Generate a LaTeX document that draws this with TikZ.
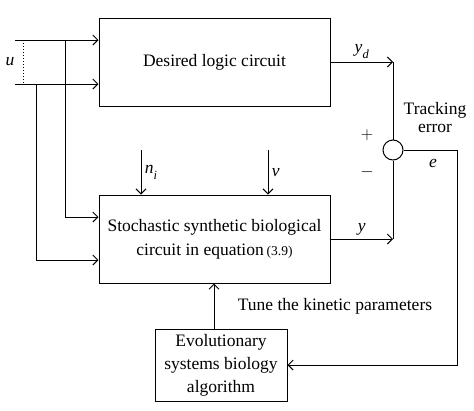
\documentclass[tikz,border=0pt]{standalone}
\usepackage{fontspec}
\setmainfont{Liberation Serif}
\usetikzlibrary{calc, positioning, arrows, arrows.meta}
\newcommand{\subit}[1]{\raisebox{-0.3em}{\fontsize{12.5}{13}\selectfont\textit{#1}}}
\begin{document}
\begin{tikzpicture}[x=1pt, y=-1pt, >={Straight Barb[length=5pt,width=10pt]}, line width=1pt,
  every node/.style={font=\fontsize{17.5}{23}\selectfont},
  blk/.style={draw, rectangle, inner sep=0pt, align=center}]
\useasboundingbox (0,0) rectangle (474,410);
% blocks
\node[blk, minimum width=231pt, minimum height=88pt] (logic) at (214.5,62) {Desired logic circuit};
\node[blk, minimum width=231pt, minimum height=88pt] (stoch) at (214.5,239) {\raisebox{-3pt}{\begin{tabular}{@{}c@{}}Stochastic synthetic biological\\[1pt]circuit in equation\,{\fontsize{13.5}{14}\selectfont(3.9)}\end{tabular}}};
\node[blk, minimum width=132pt, minimum height=72pt] (evo) at (221,365) {Evolutionary\\systems biology\\algorithm};
\node[draw, circle, minimum size=20pt, inner sep=0pt] (sum) at (393,150) {};
% inputs
\coordinate (u1) at (15,40);
\coordinate (u2) at (15,84);
\coordinate (d1) at (23,40);
\coordinate (d2) at (23,84);
\coordinate (s1) at (65,40);
\coordinate (s2) at (36,84);
\draw[->] (u1) -- (u1 -| logic.west);
\draw[->] (u2) -- (u2 -| logic.west);
\draw[dotted] (d1) -- (d2);
\node (ulab) at (10,62) {\textit{u}};
\draw[->] (s1) |- ($(stoch.west)+(0,-22)$);
\draw[->] (s2) |- ($(stoch.west)+(0,21)$);
% noises
\coordinate (ni) at (141,150);
\coordinate (nv) at (268,150);
\draw[->] (ni) -- (ni |- stoch.north) node[midway, right] (nilab) {\textit{n}\subit{i}};
\draw[->] (nv) -- (nv |- stoch.north) node[midway, right] (nvlab) {\textit{v}};
% outputs
\coordinate (yd) at (393,62);
\coordinate (yy) at (393,239);
\draw[->] (logic.east) -- (yd) node[midway, above] (ydlab) {\textit{y}\subit{d}};
\draw (yd) -- (sum.north);
\draw[->] (stoch.east) -- (yy) node[midway, above] (ylab) {\textit{y}};
\draw (yy) -- (sum.south);
\node (plus) at (367,135) {$+$};
\node (minus) at (367,172) {$-$};
\node[align=center, font=\fontsize{17.5}{18}\selectfont] (track) at (435,118) {Tracking\\error};
% feedback
\coordinate (ec) at (457,150);
\draw[->] (sum.east) -- (ec) |- (evo.east);
\node (elab) at (433,163) {\textit{e}};
\coordinate (tn) at ($(evo.north)+(-7,0)$);
\draw[->] (tn) -- (tn |- stoch.south);
\node (tune) at (335,306) {Tune the kinetic parameters};
\end{tikzpicture}
\end{document}
